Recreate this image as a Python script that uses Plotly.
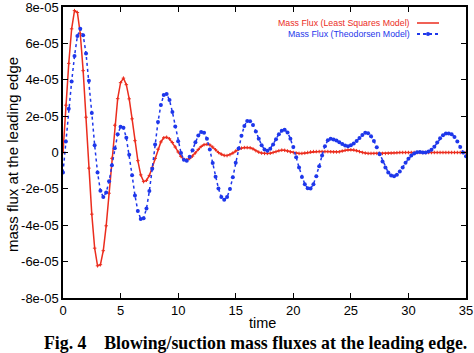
import plotly.graph_objects as go

# time grid (step 0.25) and values in units of 1e-5
time = [i * 0.25 for i in range(141)]

least_squares = [
    0.0, 2.6, 4.9, 6.8, 7.8, 7.7, 6.53, 4.5, 1.94, -0.86, -3.39, -5.26, -6.23, -6.17,
    -5.4, -4.03, -2.24, -0.32, 1.5, 2.96, 3.84, 4.09, 3.73, 2.95, 1.85, 0.65, -0.45,
    -1.23, -1.6, -1.53, -1.26, -0.83, -0.33, 0.18, 0.58, 0.81, 0.84, 0.75, 0.55, 0.3,
    0.03, -0.22, -0.38, -0.4, -0.33, -0.2, -0.02, 0.17, 0.33, 0.43, 0.45, 0.42, 0.3,
    0.15, 0.0, -0.1, -0.16, -0.17, -0.12, -0.03, 0.08, 0.18, 0.24, 0.27, 0.27, 0.26,
    0.2, 0.1, 0.02, -0.03, -0.05, -0.05, -0.04, 0.0, 0.05, 0.1, 0.13, 0.12, 0.08,
    0.03, 0.0, -0.03, -0.05, -0.05, -0.03, 0.0, 0.03, 0.05, 0.05, 0.05, 0.05, 0.05,
    0.05, 0.04, 0.03, 0.03, 0.04, 0.08, 0.12, 0.14, 0.15, 0.14, 0.1, 0.05, 0.0, -0.03,
    -0.05, -0.05, -0.05, -0.05, -0.05, -0.05, -0.05, -0.04, -0.03, -0.02, -0.01, 0.0,
    0.0, 0.0, 0.0, 0.0, 0.0, 0.0, 0.0, 0.0, 0.0, 0.0, 0.0, 0.0, 0.0, 0.0, 0.0, 0.0,
    0.0, 0.0, 0.0, 0.0, 0.0, 0.0, 0.0,
]

theodorsen = [
    -1.1, 0.6, 2.4, 3.9, 5.3, 6.4, 6.8, 6.45, 5.45, 3.95, 2.175, 0.4, -1.1, -2.1,
    -2.45, -2.2, -1.58, -0.7, 0.24, 1.0, 1.41, 1.36, 0.81, -0.13, -1.25, -2.36, -3.21,
    -3.65, -3.61, -3.08, -2.12, -0.89, 0.44, 1.68, 2.61, 3.16, 3.22, 2.88, 2.23, 1.43,
    0.62, -0.03, -0.4, -0.45, -0.23, 0.13, 0.57, 0.93, 1.13, 1.09, 0.75, 0.17, -0.58,
    -1.33, -1.98, -2.45, -2.6, -2.45, -2.01, -1.36, -0.57, 0.22, 0.92, 1.46, 1.73,
    1.72, 1.51, 1.16, 0.76, 0.4, 0.17, 0.1, 0.21, 0.44, 0.73, 1.01, 1.2, 1.25, 1.1,
    0.76, 0.3, -0.26, -0.83, -1.35, -1.74, -1.97, -1.98, -1.75, -1.31, -0.75, -0.16,
    0.35, 0.67, 0.75, 0.72, 0.66, 0.57, 0.47, 0.39, 0.35, 0.4, 0.5, 0.63, 0.8, 0.96,
    1.09, 1.06, 0.9, 0.63, 0.29, -0.1, -0.49, -0.83, -1.1, -1.26, -1.3, -1.22, -1.05,
    -0.82, -0.57, -0.35, -0.17, -0.05, 0.02, 0.03, 0.0, 0.0, 0.05, 0.15, 0.32, 0.55,
    0.78, 0.95, 1.04, 1.05, 1.0, 0.85, 0.6, 0.3, 0.0, -0.2,
]

y_tick_vals = [8e-5, 6e-5, 4e-5, 2e-5, 0, -2e-5, -4e-5, -6e-5, -8e-5]
y_tick_text = ["8e-05", "6e-05", "4e-05", "2e-05", "0", "-2e-05", "-4e-05", "-6e-05", "-8e-05"]
x_tick_vals = [0, 5, 10, 15, 20, 25, 30, 35]

series_names = ["Mass Flux (Least Squares Model)", "Mass Flux (Theodorsen Model)"]
x_title = "time"
y_title = "mass flux at the leading edge"
caption = "Fig. 4\u00a0\u00a0\u00a0\u00a0Blowing/suction mass fluxes at the leading edge."

RED = "rgb(235,45,30)"
BLUE = "rgb(30,55,235)"

ls_vals = [v * 1e-5 for v in least_squares]
th_vals = [v * 1e-5 for v in theodorsen]

fig = go.Figure()
fig.add_trace(go.Scatter(
    x=time, y=ls_vals, mode="lines+markers", name=series_names[0],
    line=dict(color=RED, width=1.5),
    marker=dict(symbol="cross-thin", size=2.5, color=RED, line=dict(color=RED, width=1)),
))
fig.add_trace(go.Scatter(
    x=time, y=th_vals, mode="lines+markers", name=series_names[1],
    line=dict(color=BLUE, width=1.5, dash="dot"),
    marker=dict(symbol="circle", size=4, color=BLUE),
))

axis_common = dict(
    showgrid=False, zeroline=False, showline=True, linecolor="black", linewidth=1.5,
    mirror="ticks", ticks="inside", ticklen=5, tickwidth=1, tickcolor="black",
    ticklabeloverflow="allow", automargin=False,
    tickfont=dict(family="Liberation Sans, Arial", size=13, color="black"),
)

L, R, T, B = 63, 466, 7, 298
W, H = 474, 353
fig.update_layout(
    width=W, height=H,
    margin=dict(l=L, r=W - R, t=T, b=H - B),
    paper_bgcolor="white", plot_bgcolor="white",
    showlegend=False,
    xaxis=dict(range=[0, 35], tickvals=x_tick_vals, **axis_common),
    yaxis=dict(range=[-8e-5, 8e-5], tickvals=y_tick_vals, ticktext=y_tick_text, **axis_common),
)


def px_x(px):
    return (px - L) / (R - L)


def px_y(py):
    return (B - py) / (B - T)


# axis titles
fig.add_annotation(text=x_title, xref="paper", yref="paper", x=px_x(262), y=px_y(323),
                   xanchor="center", yanchor="middle", showarrow=False,
                   font=dict(family="Liberation Sans, Arial", size=14.5, color="black"))
fig.add_annotation(text=y_title, xref="paper", yref="paper", x=px_x(12), y=px_y(155),
                   xanchor="center", yanchor="middle", showarrow=False, textangle=-90,
                   font=dict(family="Liberation Sans, Arial", size=15, color="black"))

# gnuplot-style legend: right-aligned text with sample on the right
legend_rows = [(series_names[0], RED, "solid", 23), (series_names[1], BLUE, "dot", 34)]
for name, col, dash, ypx in legend_rows:
    yy = px_y(ypx)
    fig.add_annotation(text=name, xref="paper", yref="paper", x=px_x(412), y=yy,
                       xanchor="right", yanchor="middle", showarrow=False,
                       font=dict(family="Liberation Sans, Arial", size=8.8, color=col))
    fig.add_shape(type="line", xref="paper", yref="paper", x0=px_x(417), x1=px_x(439), y0=yy, y1=yy,
                  line=dict(color=col, width=1.5 if dash == "solid" else 2, dash=dash))
    if dash == "dot":
        fig.add_shape(type="circle", xref="paper", yref="paper",
                      x0=px_x(426), x1=px_x(430), y0=px_y(ypx + 2), y1=px_y(ypx - 2),
                      fillcolor=col, line=dict(color=col, width=0))

fig.add_annotation(text="<b>" + caption + "</b>", xref="paper", yref="paper",
                   x=px_x(255), y=px_y(343),
                   xanchor="center", yanchor="middle", showarrow=False,
                   font=dict(family="Liberation Serif, Times New Roman", size=17.8, color="black"))

fig.write_html("out.html")
